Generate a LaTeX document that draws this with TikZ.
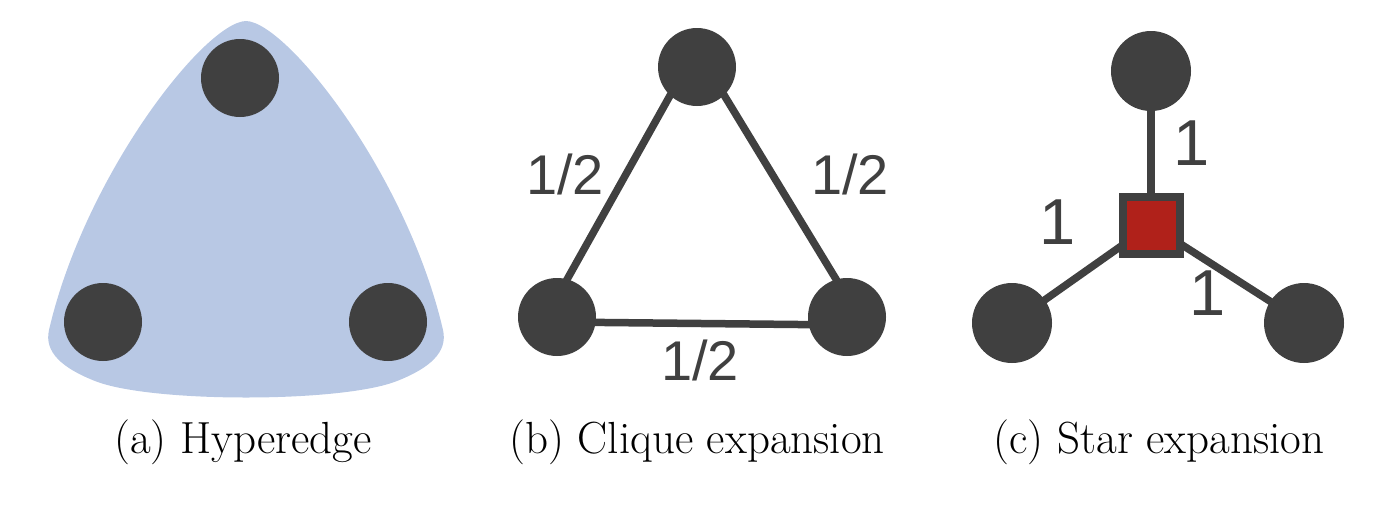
\documentclass[tikz,border=0pt]{standalone}
\usepackage{fontspec}
\newfontfamily\labfont{Liberation Sans}
\definecolor{dk}{HTML}{404040}
\definecolor{blobc}{HTML}{B8C8E4}
\definecolor{sqc}{HTML}{B0211A}
\pgfdeclarelayer{bg}\pgfsetlayers{bg,main}
\begin{document}
\begin{tikzpicture}[x=1pt,y=-1pt,
  vtx/.style={circle,fill=dk,minimum size=78pt,inner sep=0pt},
  edgeline/.style={draw=dk,line width=7.5pt},
  lblb/.style={text=dk,font=\labfont\fontsize{56}{62}\selectfont,inner sep=0pt},
  lblc/.style={text=dk,font=\labfont\fontsize{65}{70}\selectfont,inner sep=0pt},
  capt/.style={font=\fontsize{45}{52}\selectfont,inner sep=0pt},
  hub/.style={rectangle,draw=dk,line width=8pt,fill=sqc,minimum size=57pt,inner sep=0pt}]
\useasboundingbox (0,0) rectangle (1396,504);
% (a) hyperedge
\fill[blobc] (246,21)
  .. controls (205,22) and (85,175) .. (49,330)
  .. controls (44,352) and (62,368) .. (95,381)
  .. controls (150,403) and (342,403) .. (397,381)
  .. controls (430,368) and (448,352) .. (443,330)
  .. controls (407,175) and (287,22) .. (246,21) -- cycle;
\node[vtx] (a1) at (240,78) {};
\node[vtx] (a2) at (103,322) {};
\node[vtx] (a3) at (388,322) {};
\node[capt] (ca) at (243,442) {(a) Hyperedge};
% (b) clique expansion
\node[vtx] (bt) at (697,67) {};
\node[vtx] (bl) at (557,317) {};
\node[vtx] (br) at (847,317) {};
\begin{pgfonlayer}{bg}
\draw[edgeline] ([xshift=-11pt]bt.center) -- ([xshift=-11pt]bl.center);
\draw[edgeline] ([xshift=10pt]bt.center) -- ([xshift=12pt]br.center);
\draw[edgeline] ([yshift=-5pt]bl.center) -- ([yshift=-8pt]br.center);
\end{pgfonlayer}
\node[lblb] (lb1) at (565,174) {1/2};
\node[lblb] (lb2) at (850,174) {1/2};
\node[lblb] (lb3) at (700,360) {1/2};
\node[capt] (cb) at (697,442) {(b) Clique expansion};
% (c) star expansion
\node[vtx,minimum size=80pt] (ct) at (1151,71) {};
\node[hub] (hs) at (1151,225) {};
\node[vtx,minimum size=80pt] (cl) at (1012,323) {};
\node[vtx,minimum size=80pt] (cr) at (1304,323) {};
\begin{pgfonlayer}{bg}
\draw[edgeline] (ct.center) -- (hs.center);
\draw[edgeline] (cl.center) -- (hs.center);
\draw[edgeline] (cr.center) -- (hs.center);
\end{pgfonlayer}
\node[lblc] (l1) at (1192,143) {1};
\node[lblc] (l2) at (1058,222) {1};
\node[lblc] (l3) at (1208,293) {1};
\node[capt] (cc) at (1159,442) {(c) Star expansion};
\end{tikzpicture}
\end{document}
